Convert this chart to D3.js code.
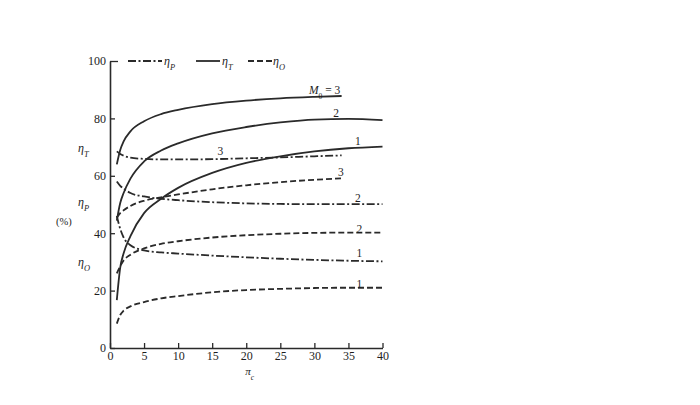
<!DOCTYPE html>
<html>
<head>
<meta charset="utf-8">
<script src="https://cdn.jsdelivr.net/npm/d3@7"></script>
<style>
  body { margin: 0; background: #fff; }
  svg { display: block; }
  text { font-family: "Liberation Serif", "DejaVu Serif", serif; fill: #1e1e1e; }
</style>
</head>
<body>
<div id="chart"></div>
<script>
// compressor pressure ratio (pi_c) sample points
var piFull  = [1, 1.5, 2, 3, 5, 7.5, 10, 15, 20, 25, 30, 35, 40];
var piShort = [1, 1.5, 2, 3, 5, 7.5, 10, 15, 20, 25, 30, 34];

// thermal efficiency eta_T (%)
var etaT_M1 = [16.7, 28, 33, 39, 47, 52, 55.8, 61, 64.5, 66.8, 68.5, 69.6, 70.2];
var etaT_M2 = [44.4, 50.5, 54, 59, 65, 68.8, 71.3, 74.8, 77, 78.6, 79.6, 79.8, 79.4];
var etaT_M3 = [64, 69, 72, 75.5, 79, 81.5, 83, 85, 86.2, 87, 87.5, 87.8];

// propulsive efficiency eta_P (%)
var etaP_M1 = [46, 41.5, 38.5, 35.8, 34, 33.3, 32.9, 32.2, 31.6, 31.1, 30.7, 30.4, 30.2];
var etaP_M2 = [58, 56.5, 55.5, 54, 52.8, 52, 51.5, 50.8, 50.4, 50.2, 50.1, 50.1, 50.1];
var etaP_M3 = [68.5, 67.6, 67, 66.3, 65.9, 65.7, 65.7, 65.8, 66.1, 66.4, 66.8, 67.1];

// overall efficiency eta_O (%)
var etaO_M1 = [8.5, 11.5, 13, 14.5, 16, 17.3, 18.1, 19.4, 20.2, 20.6, 20.9, 21, 21];
var etaO_M2 = [26, 28.5, 30.5, 32.5, 34.7, 36.3, 37.2, 38.5, 39.3, 39.8, 40.1, 40.2, 40.2];
var etaO_M3 = [45.5, 47, 48, 49.5, 51.3, 52.5, 53.5, 55.3, 56.7, 57.8, 58.6, 59.1];

var xTicks = [0, 5, 10, 15, 20, 25, 30, 35, 40];
var yTicks = [0, 20, 40, 60, 80, 100];

// curve labels, in data units (x, value at baseline)
var curveLabels = [
  {x: 31.5, y: 88.6, t: "M0 = 3"},
  {x: 33.2, y: 80.4, t: "2"},
  {x: 36.4, y: 70.6, t: "1"},
  {x: 16.2, y: 67.4, t: "3"},
  {x: 33.9, y: 59.8, t: "3"},
  {x: 36.4, y: 51.0, t: "2"},
  {x: 36.6, y: 39.9, t: "2"},
  {x: 36.6, y: 31.6, t: "1"},
  {x: 36.6, y: 20.9, t: "1"}
];

(function(){
    var W = 700, H = 405;
    var ink = "#2a2a2a";
    var dashDot = "8,2.5,2,2.5";
    var dashed = "6,3";

    var svg = d3.select("#chart").append("svg")
	.attr("width", W)
	.attr("height", H);

    var x = d3.scaleLinear().domain([0, 40]).range([110, 382.5]);
    var y = d3.scaleLinear().domain([0, 100]).range([348, 61]);

    //axes
    var yAxis = d3.axisLeft(y).tickValues(yTicks).tickSizeInner(-5).tickSizeOuter(0).tickPadding(4);
    var xAxis = d3.axisBottom(x).tickValues(xTicks).tickSizeInner(-5).tickSizeOuter(0).tickPadding(3);

    var gy = svg.append("g").attr("transform", "translate(" + x(0) + ",0)").call(yAxis);
    var gx = svg.append("g").attr("transform", "translate(0," + y(0) + ")").call(xAxis);
    [gy, gx].forEach(function(g){
	g.selectAll("path.domain").attr("stroke", ink).attr("stroke-width", 1.6);
	g.selectAll(".tick line").attr("stroke", ink).attr("stroke-width", 1.3);
	g.selectAll(".tick text")
	    .attr("fill", "#1e1e1e")
	    .style("font-family", '"Liberation Serif", serif')
	    .style("font-size", "12px");
    });
    // top tick sticks out a bit further
    gy.selectAll(".tick").filter(function(d){ return d === 100; })
	.select("line").attr("x2", 8);

    //series
    var series = [
	{xs: piFull,  ys: etaT_M1, dash: null},
	{xs: piFull,  ys: etaT_M2, dash: null},
	{xs: piShort, ys: etaT_M3, dash: null},
	{xs: piFull,  ys: etaP_M1, dash: dashDot},
	{xs: piFull,  ys: etaP_M2, dash: dashDot},
	{xs: piShort, ys: etaP_M3, dash: dashDot},
	{xs: piFull,  ys: etaO_M1, dash: dashed},
	{xs: piFull,  ys: etaO_M2, dash: dashed},
	{xs: piShort, ys: etaO_M3, dash: dashed}
    ];

    var line = d3.line()
	.x(function(d){ return x(d[0]); })
	.y(function(d){ return y(d[1]); })
	.curve(d3.curveMonotoneX);

    svg.append("g").selectAll("path")
	.data(series)
	.enter().append("path")
	.attr("d", function(s){ return line(d3.zip(s.xs, s.ys)); })
	.attr("fill", "none")
	.attr("stroke", ink)
	.attr("stroke-width", 1.8)
	.attr("stroke-dasharray", function(s){ return s.dash; });

    //curve labels
    var lab = svg.append("g").selectAll("text")
	.data(curveLabels)
	.enter().append("text")
	.attr("x", function(d){ return x(d.x); })
	.attr("y", function(d){ return y(d.y); })
	.attr("text-anchor", "middle")
	.style("font-size", "11.5px");
    lab.each(function(d){
	var t = d3.select(this);
	if (d.t.indexOf("M0") === 0){
	    t.append("tspan").style("font-style", "italic").text("M");
	    t.append("tspan").attr("baseline-shift", "sub").style("font-size", "7.5px").text("0");
	    t.append("tspan").text(" = 3");
	}else{
	    t.text(d.t);
	}
    });

    // eta with subscript helper
    function eta(g, px, py, sub, size){
	var t = g.append("text")
	    .attr("x", px).attr("y", py)
	    .style("font-size", size + "px")
	    .style("font-style", "italic");
	t.append("tspan").text("\u03b7");
	t.append("tspan").attr("baseline-shift", "sub")
	    .style("font-size", (size * 0.7) + "px").text(sub);
	return t;
    }

    //legend
    var leg = svg.append("g");
    var legItems = [
	{x0: 128, x1: 162, dash: dashDot, sub: "P", tx: 164},
	{x0: 196, x1: 220, dash: null, sub: "T", tx: 222},
	{x0: 248, x1: 272, dash: dashed, sub: "O", tx: 273}
    ];
    legItems.forEach(function(it){
	leg.append("line")
	    .attr("x1", it.x0).attr("x2", it.x1)
	    .attr("y1", y(100)).attr("y2", y(100))
	    .attr("stroke", ink).attr("stroke-width", 1.8)
	    .attr("stroke-dasharray", it.dash);
	eta(leg, it.tx, y(100) + 4, it.sub, 12);
    });

    //left side labels
    var side = svg.append("g");
    eta(side, 78, 152, "T", 12);
    eta(side, 78, 206, "P", 12);
    side.append("text").attr("x", 56).attr("y", 225).style("font-size", "10.5px").text("(%)");
    eta(side, 78, 266, "O", 12);

    //x axis title
    var xt = svg.append("text")
	.attr("x", x(20.5)).attr("y", 375)
	.attr("text-anchor", "middle")
	.style("font-size", "11px")
	.style("font-style", "italic");
    xt.append("tspan").text("\u03c0");
    xt.append("tspan").attr("baseline-shift", "sub").style("font-size", "7.5px").text("c");
})();
</script>
</body>
</html>
